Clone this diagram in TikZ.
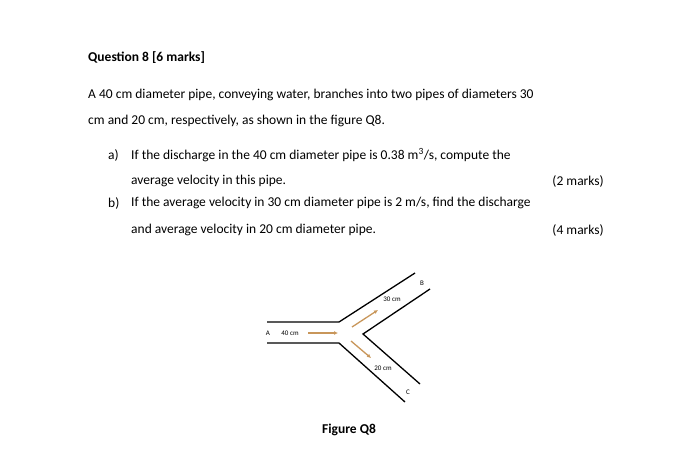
\documentclass[tikz,border=0pt]{standalone}
\usepackage{fontspec}
\setmainfont{Carlito}
\usetikzlibrary{arrows.meta}
\begin{document}
\begin{tikzpicture}[x=1pt,y=-1pt,
  txt/.style={anchor=west,inner sep=0pt,font=\fontsize{13.5}{16}\selectfont},
  rtxt/.style={anchor=east,inner sep=0pt,font=\fontsize{13.5}{16}\selectfont},
  lbl/.style={inner sep=0pt,font=\fontsize{7}{8}\selectfont},
  pipe/.style={line width=1.3pt},
  flow/.style={draw={rgb,255:red,200;green,150;blue,90},line width=1.3pt,-{Latex[length=4pt,width=4pt]}}]
\useasboundingbox (0,0) rectangle (700,453);
\node[txt,font=\fontsize{13.5}{16}\selectfont\bfseries] (q) at (88,58) {Question 8 [6 marks]};
\node[txt] (l1) at (88,95) {A 40 cm diameter pipe, conveying water, branches into two pipes of diameters 30};
\node[txt] (l2) at (88,121) {cm and 20 cm, respectively, as shown in the figure Q8.};
\node[txt] (a) at (108,155) {a)};
\node[txt] (a1) at (131,155) {If the discharge in the 40 cm diameter pipe is 0.38 m\textsuperscript{3}/s, compute the};
\node[txt] (a2) at (131,181) {average velocity in this pipe.};
\node[rtxt] (am) at (604,181) {(2 marks)};
\node[txt] (b) at (108,203) {b)};
\node[txt] (b1) at (131,203) {If the average velocity in 30 cm diameter pipe is 2 m/s, find the discharge};
\node[txt] (b2) at (131,230) {and average velocity in 20 cm diameter pipe.};
\node[rtxt] (bm) at (604,230) {(4 marks)};
\node[inner sep=0pt,font=\fontsize{13.5}{16}\selectfont\bfseries] (fig) at (349,430) {Figure Q8};
\coordinate (t0) at (267,322); \coordinate (t1) at (339,322); \coordinate (t2) at (415,273);
\coordinate (b0) at (267,343); \coordinate (b1p) at (339,343); \coordinate (b2p) at (405,402);
\coordinate (i0) at (363,334); \coordinate (iu) at (430,289); \coordinate (il) at (420,384);
\draw[pipe] (t0) -- (t1) -- (t2);
\draw[pipe] (b0) -- (b1p) -- (b2p);
\draw[pipe] (iu) -- (i0) -- (il);
\coordinate (f0) at (308,333); \coordinate (f1) at (338,333);
\coordinate (u0) at (352,327); \coordinate (u1) at (378,310);
\coordinate (d0) at (351,341); \coordinate (d1) at (371,358);
\draw[flow] (f0) -- (f1);
\draw[flow] (u0) -- (u1);
\draw[flow] (d0) -- (d1);
\node[lbl] (A) at (268,333) {A};
\node[lbl] (d40) at (290,333) {40 cm};
\node[lbl] (d30) at (392,299) {30 cm};
\node[lbl] (d20) at (383,368) {20 cm};
\node[lbl] (B) at (422,283) {B};
\node[lbl] (C) at (408,392) {C};
\end{tikzpicture}
\end{document}
